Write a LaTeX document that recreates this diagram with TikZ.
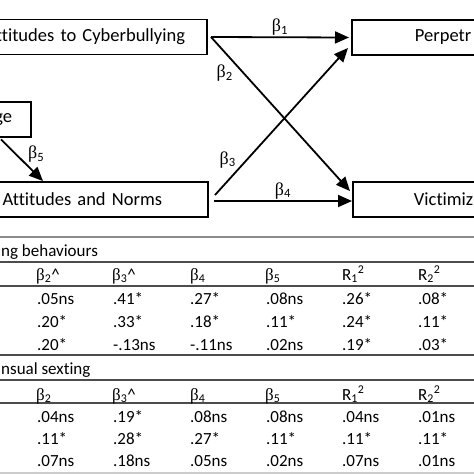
\documentclass[tikz,border=0pt]{standalone}
\usepackage{fontspec}
\setmainfont{Carlito}[Ligatures=NoCommon]
\newfontfamily\grk{Liberation Serif}
\usetikzlibrary{arrows.meta}
\newcommand\bb[1]{{\grk β}\textsubscript{#1}}
\newcommand\rsq[1]{R\textsubscript{#1}\textsuperscript{2}}
\tikzset{
  box/.style={draw, line width=1.9pt, minimum height=35pt, inner ysep=0pt, font=\fontsize{18.5}{20}\selectfont},
  arr/.style={line width=1.8pt, -{Triangle[length=14pt,width=12pt]}},
  lbl/.style={inner sep=1pt, font=\fontsize{18}{20}\selectfont},
  rule/.style={line width=1.8pt, draw=black!70},
  cell/.style={anchor=base west, inner sep=0pt, font=\fontsize{17}{19}\selectfont}
}
\begin{document}
\begin{tikzpicture}[x=1pt, y=-1pt]
	\useasboundingbox (0,0) rectangle (474,474);
	\clip (0,0) rectangle (474,474);
		\node[box, anchor=east, text width=220pt, align=right, inner xsep=22pt] (attc) at (208,37) {ttitudes to Cyberbullying};
		\node[box, anchor=east, text width=60pt, align=right, inner xsep=19pt] (age) at (32,119.5) {ge};
		\node[box, anchor=east, text width=200pt, align=right, inner xsep=46pt] (norms) at (209,199.5) {Attitudes and Norms};
		\node[box, anchor=west, text width=150pt, align=left, inner xsep=63pt] (perp) at (351,37.5) {Perpetr};
		\node[box, anchor=west, text width=150pt, align=left, inner xsep=61pt] (vict) at (352,199.5) {Victimiz};
        \draw[arr] ([xshift=3pt]attc.east) -- node[lbl, above]{\bb1} ([xshift=-2pt]perp.west);
        \draw[arr] ([xshift=3pt]attc.east) -- node[lbl, pos=.17, below left]{\bb2} ([xshift=-2pt, yshift=-10pt]vict.north west);
        \draw[arr] ([xshift=6pt, yshift=4.5pt]norms.east) -- node[lbl, pos=.17, above left]{\bb3} ([xshift=-3pt, yshift=8pt]perp.south west);
        \draw[arr] ([xshift=5pt, yshift=-1.5pt]norms.east) -- node[lbl, above]{\bb4} ([yshift=-1.5pt]vict.west);
        \draw[arr] ([xshift=-31pt, yshift=-1.5pt]age.south east) -- node[lbl, pos=.6, above right]{\bb5} ([xshift=-166pt]norms.north east);
	\draw[line width=1.8pt, draw=black!45] (0,237) -- (474,237);
	\draw[line width=2pt, draw=black!20] (0,473) -- (474,473);
	\foreach \y in {262,286,355,380,403}
		\draw[rule] (0,\y) -- (474,\y);
	\node[cell] (sec1) at (1,256) {ng behaviours};
	\node[cell] (sec2) at (1,374) {nsual sexting};
	\foreach \yy/\a/\b [count=\i] in {280/\bb2\textasciicircum/\bb3\textasciicircum, 400/\bb2/\bb3\textasciicircum}{
		\node[cell] (h\i a) at (36,\yy) {\a};
		\node[cell] (h\i b) at (112,\yy) {\b};
		\node[cell] (h\i c) at (190,\yy) {\bb4};
		\node[cell] (h\i d) at (265,\yy) {\bb5};
		\node[cell] (h\i e) at (342,\yy) {\rsq1};
		\node[cell] (h\i f) at (418,\yy) {\rsq2};
	}
	\foreach \yy/\a/\b/\c/\d/\e/\f [count=\i] in {304/.05ns/.41*/.27*/.08ns/.26*/.08*, 327/.20*/.33*/.18*/.11*/.24*/.11*, 350/.20*/-.13ns/-.11ns/.02ns/.19*/.03*, 422/.04ns/.19*/.08ns/.08ns/.04ns/.01ns, 444/.11*/.28*/.27*/.11*/.11*/.11*, 466/.07ns/.18ns/.05ns/.02ns/.07ns/.01ns}{
		\node[cell] (r\i a) at (37,\yy) {\a};
		\node[cell] (r\i b) at (113,\yy) {\b};
		\node[cell] (r\i c) at (190,\yy) {\c};
		\node[cell] (r\i d) at (266,\yy) {\d};
		\node[cell] (r\i e) at (342,\yy) {\e};
		\node[cell] (r\i f) at (418,\yy) {\f};
	}
\end{tikzpicture}
\end{document}
